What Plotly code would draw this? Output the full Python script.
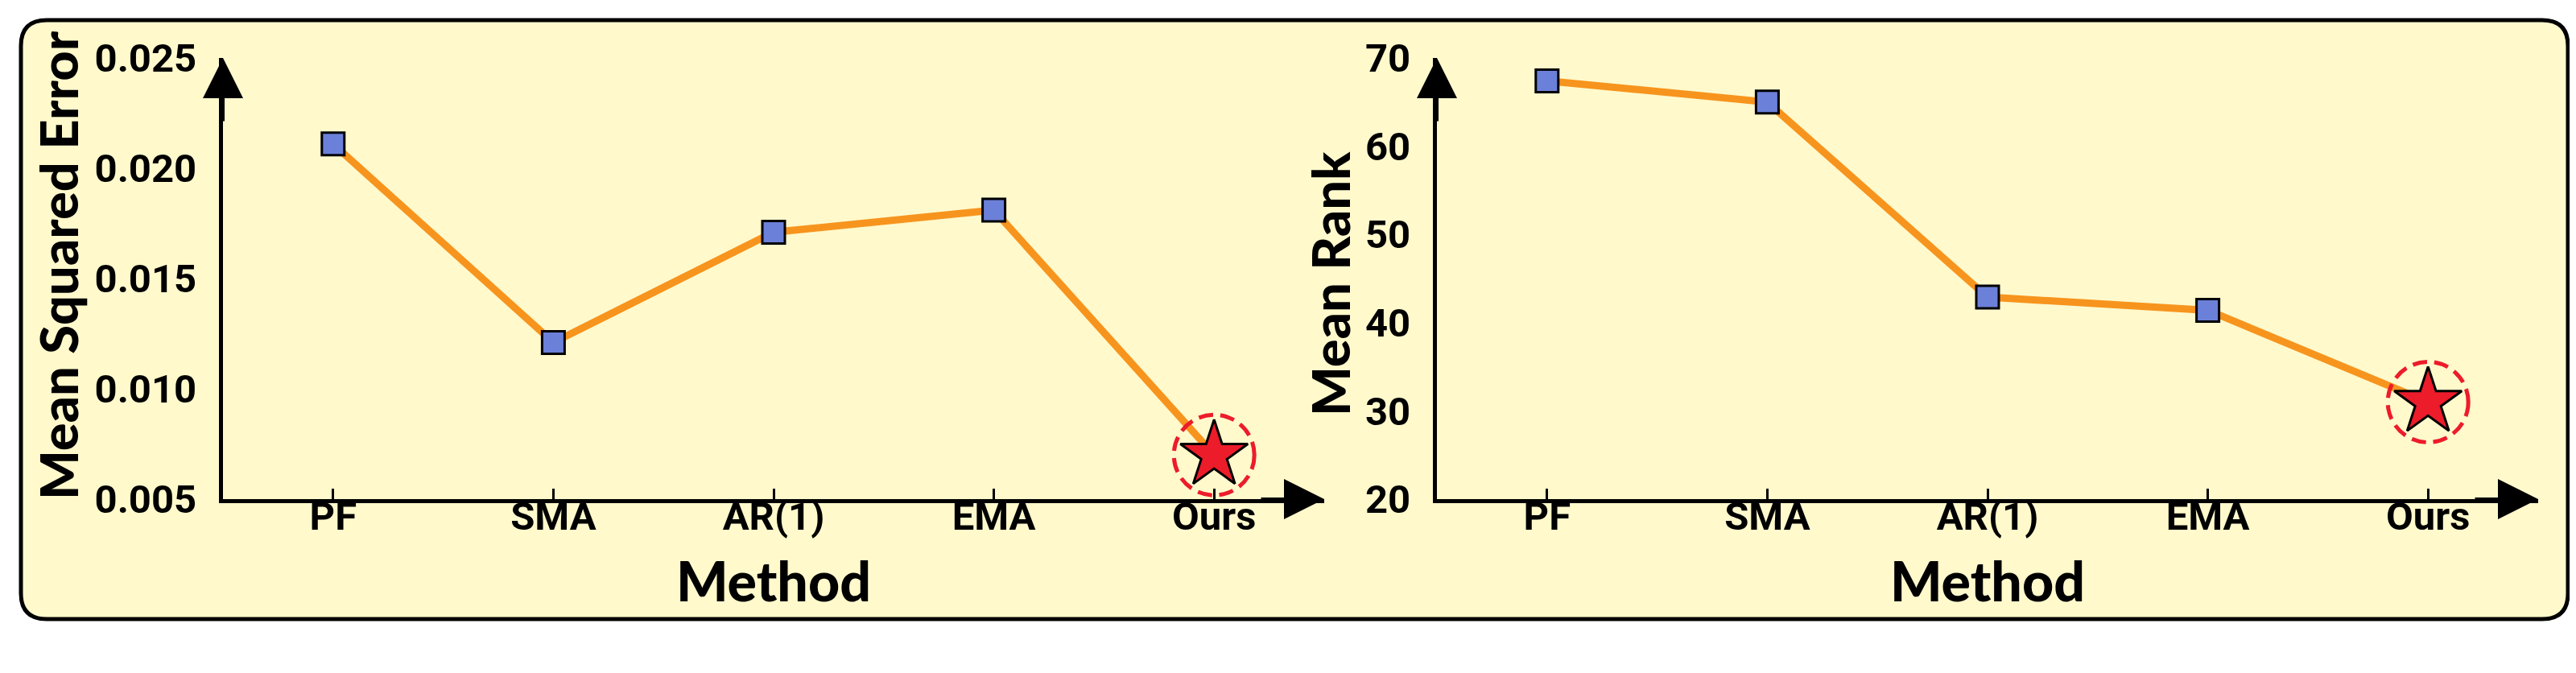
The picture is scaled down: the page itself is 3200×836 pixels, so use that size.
import plotly.graph_objects as go

# ---------------- data ----------------
methods = ["PF", "SMA", "AR(1)", "EMA", "Ours"]
mse_values = [0.0211, 0.0121, 0.0171, 0.0181, 0.0070]
rank_values = [67.4, 65.0, 42.9, 41.4, 31.0]
mse_ticks = [0.005, 0.010, 0.015, 0.020, 0.025]
rank_ticks = [20, 30, 40, 50, 60, 70]
y_titles = ["Mean Squared Error", "Mean Rank"]
x_title = "Method"

W, H = 3200, 836
LINE_COLOR = "#F7941D"
SQUARE_COLOR = "#6B80D8"
STAR_COLOR = "#EC1C2B"
BOX_FILL = "#FFF9CC"
TICK_FONT = dict(family="Roboto, sans-serif", size=49, color="black", weight="bold")
TITLE_FONT = dict(family="Lato, Open Sans, sans-serif", size=68, color="black", weight=900)
YTITLE_FONT = dict(family="Lato, Open Sans, sans-serif", size=65, color="black", weight=900)


def pxx(x):
    return x / W


def pyy(y):
    return 1 - y / H


fig = go.Figure()

panels = [
    dict(values=mse_values, ticks=mse_ticks, fmt="{:.3f}", title=y_titles[0],
         xa="x", ya="y", rng=[0.005, 0.025], title_pos=(64, 322)),
    dict(values=rank_values, ticks=rank_ticks, fmt="{:d}", title=y_titles[1],
         xa="x2", ya="y2", rng=[20, 70], title_pos=(1644, 345)),
]

for p in panels:
    vals = p["values"]
    # connecting line
    fig.add_trace(go.Scatter(x=methods, y=vals, mode="lines",
                             line=dict(color=LINE_COLOR, width=9),
                             xaxis=p["xa"], yaxis=p["ya"], showlegend=False, hoverinfo="skip"))
    # baseline squares
    fig.add_trace(go.Scatter(x=methods[:-1], y=vals[:-1], mode="markers",
                             marker=dict(symbol="square", size=28, color=SQUARE_COLOR,
                                         line=dict(color="black", width=3)),
                             xaxis=p["xa"], yaxis=p["ya"], showlegend=False))
    # our method star
    fig.add_trace(go.Scatter(x=methods[-1:], y=vals[-1:], mode="markers",
                             marker=dict(symbol="star", size=63, color=STAR_COLOR,
                                         line=dict(color="black", width=3)),
                             xaxis=p["xa"], yaxis=p["ya"], showlegend=False))
    # dashed highlight circle around our method (pixel-sized, anchored at the data point)
    fig.add_shape(type="circle", xref=p["xa"], yref=p["ya"],
                  xsizemode="pixel", ysizemode="pixel",
                  xanchor=methods[-1], yanchor=vals[-1],
                  x0=-50, x1=50, y0=-50, y1=50,
                  line=dict(color=STAR_COLOR, width=5, dash="18px,9px"),
                  layer="above")
    # axis arrow heads
    fig.add_annotation(xref=p["xa"] + " domain", yref=p["ya"] + " domain", x=1.0, y=0,
                       ax=-80, ay=0, showarrow=True, arrowhead=2, arrowsize=2.5,
                       arrowwidth=4, arrowcolor="black", text="")
    fig.add_annotation(xref=p["xa"] + " domain", yref=p["ya"] + " domain", x=0, y=1.0,
                       ax=0, ay=80, showarrow=True, arrowhead=2, arrowsize=2.5,
                       arrowwidth=4, arrowcolor="black", text="")
    # rotated y-axis title
    tx, ty = p["title_pos"]
    fig.add_annotation(xref="paper", yref="paper", x=pxx(tx), y=pyy(ty),
                       text=p["title"], textangle=-90, showarrow=False,
                       xanchor="center", yanchor="middle", font=YTITLE_FONT)

# rounded background box
L, R, T, B, r = 18, 3182, 17, 761, 32
path = (
    f"M{pxx(L + r)},{pyy(T)} L{pxx(R - r)},{pyy(T)} Q{pxx(R)},{pyy(T)} {pxx(R)},{pyy(T + r)} "
    f"L{pxx(R)},{pyy(B - r)} Q{pxx(R)},{pyy(B)} {pxx(R - r)},{pyy(B)} "
    f"L{pxx(L + r)},{pyy(B)} Q{pxx(L)},{pyy(B)} {pxx(L)},{pyy(B - r)} "
    f"L{pxx(L)},{pyy(T + r)} Q{pxx(L)},{pyy(T)} {pxx(L + r)},{pyy(T)} Z"
)
fig.add_shape(type="path", xref="paper", yref="paper", path=path,
              fillcolor=BOX_FILL, line=dict(color="black", width=5), layer="below")

ydom = [pyy(612), pyy(64)]
xdom1 = [pxx(269), pxx(1637)]
xdom2 = [pxx(1777), pxx(3145)]

common_x = dict(type="category", categoryorder="array", categoryarray=methods,
                range=[-0.5, 4.5], showline=True, linecolor="black", linewidth=5,
                ticks="inside", ticklen=13, tickwidth=3, tickcolor="black",
                tickfont=TICK_FONT, showgrid=False, zeroline=False, ticklabelstandoff=-26,
                title=dict(text=x_title, font=TITLE_FONT, standoff=32), automargin=False)

common_y = dict(showline=True, linecolor="black", linewidth=5, ticks="",
                ticklabelstandoff=18, tickfont=TICK_FONT, showgrid=False, zeroline=False,
                automargin=False)

fig.update_layout(
    width=W, height=H,
    margin=dict(l=0, r=0, t=0, b=0),
    paper_bgcolor="white", plot_bgcolor="rgba(0,0,0,0)",
    xaxis=dict(domain=xdom1, anchor="y", **common_x),
    xaxis2=dict(domain=xdom2, anchor="y2", **common_x),
    yaxis=dict(domain=ydom, anchor="x", range=panels[0]["rng"], tickvals=mse_ticks,
               ticktext=[panels[0]["fmt"].format(v) for v in mse_ticks], **common_y),
    yaxis2=dict(domain=ydom, anchor="x2", range=panels[1]["rng"], tickvals=rank_ticks,
                ticktext=[panels[1]["fmt"].format(v) for v in rank_ticks], **common_y),
)

fig.write_html("out.html")
